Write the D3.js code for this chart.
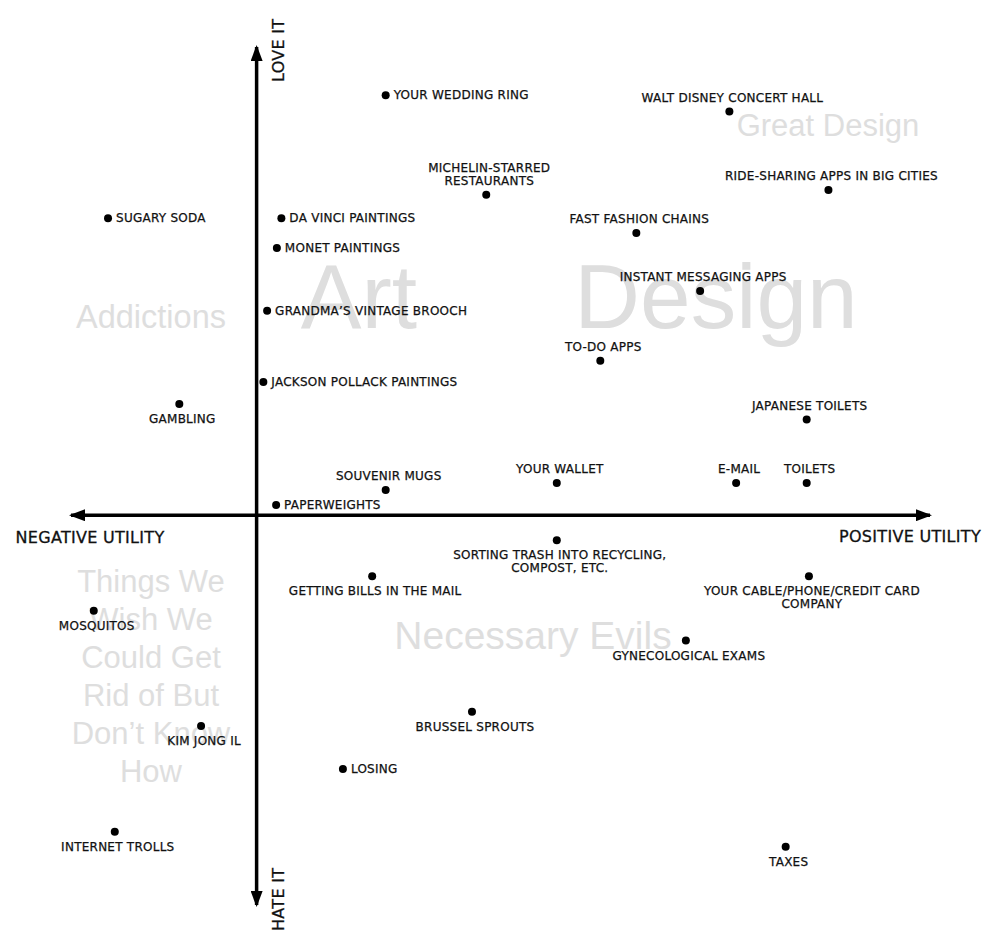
<!DOCTYPE html>
<html>
<head>
<meta charset="utf-8">
<script src="https://cdn.jsdelivr.net/npm/d3@7"></script>
<style>
  body { margin: 0; background: #fff; }
  .item { font-family: "DejaVu Sans", sans-serif; font-size: 12px; letter-spacing: 0.25px; fill: #111; stroke: #111; stroke-width: 0.25px; }
  .axislabel { font-family: "DejaVu Sans", sans-serif; font-size: 16px; letter-spacing: 0.3px; fill: #111; stroke: #111; stroke-width: 0.3px; }
  .zone { font-family: "Liberation Sans", Arial, sans-serif; fill: #dedede; text-anchor: middle; }
</style>
</head>
<body>
<svg width="1000" height="949"></svg>
<script>
// things, how useful (x) and how much we love them (y)
var names = [
  "YOUR WEDDING RING", "WALT DISNEY CONCERT HALL", "MICHELIN-STARRED|RESTAURANTS",
  "RIDE-SHARING APPS IN BIG CITIES", "SUGARY SODA", "DA VINCI PAINTINGS", "MONET PAINTINGS",
  "FAST FASHION CHAINS", "INSTANT MESSAGING APPS", "GRANDMA\u2019S VINTAGE BROOCH", "TO-DO APPS",
  "JACKSON POLLACK PAINTINGS", "GAMBLING", "JAPANESE TOILETS", "YOUR WALLET", "E-MAIL", "TOILETS",
  "SOUVENIR MUGS", "PAPERWEIGHTS", "SORTING TRASH INTO RECYCLING,|COMPOST, ETC.",
  "GETTING BILLS IN THE MAIL", "YOUR CABLE/PHONE/CREDIT CARD|COMPANY", "MOSQUITOS",
  "GYNECOLOGICAL EXAMS", "BRUSSEL SPROUTS", "KIM JONG IL", "LOSING", "INTERNET TROLLS", "TAXES"
];
var utility = [17.2, 63.0, 30.6, 76.2, -19.8, 3.3, 2.7, 50.6, 59.1, 1.4, 45.8, 0.9, -10.3, 73.3,
  40.0, 63.9, 73.3, 17.2, 2.6, 40.0, 15.4, 73.6, -21.7, 57.2, 28.7, -7.4, 11.5, -18.9, 70.5];
var love = [53.6, 51.5, 40.9, 41.5, 37.9, 37.9, 34.1, 36.0, 28.6, 26.1, 19.7, 17.0, 14.2, 12.2,
  4.1, 4.1, 4.1, 3.2, 1.3, -3.2, -7.8, -7.8, -12.2, -16.0, -25.1, -26.9, -32.4, -40.4, -42.3];

var zoneNames = ["Great Design", "Art", "Design", "Addictions",
  "Things We|Wish We|Could Get|Rid of But|Don\u2019t Know|How", "Necessary Evils"];

var svg = d3.select("svg");

var x = d3.scaleLinear().domain([-25, 90]).range([69, 932]);
var y = d3.scaleLinear().domain([-50, 60]).range([907, 45]);

// big grey zone words behind everything
var zoneLayout = [
  { cx: 828, by: 136, size: 31 },
  { cx: 359, by: 328, size: 91 },
  { cx: 716, by: 328, size: 91 },
  { cx: 151, by: 328, size: 32.5 },
  { cx: 151, by: 592, size: 31 },
  { cx: 533, by: 649, size: 39 }
];
var zone = svg.append("g").selectAll("text")
    .data(zoneNames)
    .enter().append("text")
      .attr("class", "zone")
      .attr("x", function(d, i) { return zoneLayout[i].cx; })
      .attr("y", function(d, i) { return zoneLayout[i].by; })
      .style("font-size", function(d, i) { return zoneLayout[i].size + "px"; });
zone.selectAll("tspan")
    .data(function(d) { return d.split("|"); })
    .enter().append("tspan")
      .attr("x", function() { return d3.select(this.parentNode).attr("x"); })
      .attr("dy", function(d, i) { return i ? 38 : 0; })
      .text(function(d) { return d; });

// arrows
var defs = svg.append("defs");
defs.append("marker")
    .attr("id", "head")
    .attr("viewBox", "0 0 16 12")
    .attr("refX", 14).attr("refY", 6)
    .attr("markerWidth", 16).attr("markerHeight", 12)
    .attr("markerUnits", "userSpaceOnUse")
    .attr("orient", "auto-start-reverse")
  .append("path")
    .attr("d", "M0,0 L16,6 L0,12 Z")
    .attr("fill", "#000");

var axes = svg.append("g");
axes.append("line")
    .attr("x1", x(-25) + 2).attr("x2", x(90) - 2)
    .attr("y1", y(0)).attr("y2", y(0))
    .attr("stroke", "#000").attr("stroke-width", 3.5)
    .attr("marker-start", "url(#head)").attr("marker-end", "url(#head)");
axes.append("line")
    .attr("x1", x(0)).attr("x2", x(0))
    .attr("y1", y(-50) - 2).attr("y2", y(60) + 2)
    .attr("stroke", "#000").attr("stroke-width", 3.5)
    .attr("marker-start", "url(#head)").attr("marker-end", "url(#head)");

axes.append("text").attr("class", "axislabel")
    .attr("x", 90).attr("y", 543).attr("text-anchor", "middle")
    .text("NEGATIVE UTILITY");
axes.append("text").attr("class", "axislabel")
    .attr("x", 910).attr("y", 542).attr("text-anchor", "middle")
    .text("POSITIVE UTILITY");
axes.append("text").attr("class", "axislabel")
    .attr("transform", "translate(284,82) rotate(-90)")
    .text("LOVE IT");
axes.append("text").attr("class", "axislabel")
    .attr("transform", "translate(284,931) rotate(-90)")
    .text("HATE IT");

// where each label sits relative to its dot
var side = {
  "YOUR WEDDING RING": "right", "SUGARY SODA": "right", "DA VINCI PAINTINGS": "right",
  "MONET PAINTINGS": "right", "GRANDMA\u2019S VINTAGE BROOCH": "right",
  "JACKSON POLLACK PAINTINGS": "right", "PAPERWEIGHTS": "right", "LOSING": "right",
  "GAMBLING": "below", "SORTING TRASH INTO RECYCLING,|COMPOST, ETC.": "below",
  "GETTING BILLS IN THE MAIL": "below", "YOUR CABLE/PHONE/CREDIT CARD|COMPANY": "below",
  "MOSQUITOS": "below", "GYNECOLOGICAL EXAMS": "below", "BRUSSEL SPROUTS": "below",
  "KIM JONG IL": "below", "INTERNET TROLLS": "below", "TAXES": "below"
};

var items = names.map(function(n, i) {
  return { name: n, u: utility[i], l: love[i], side: side[n] || "above" };
});

var node = svg.append("g").selectAll("g")
    .data(items)
    .enter().append("g")
      .attr("transform", function(d) { return "translate(" + x(d.u) + "," + y(d.l) + ")"; });

node.append("circle")
    .attr("r", 4)
    .attr("fill", "#000");

var label = node.append("text")
    .attr("class", "item")
    .attr("text-anchor", function(d) { return d.side == "right" ? "start" : "middle"; });

label.selectAll("tspan")
    .data(function(d) {
      var lines = d.name.split("|");
      return lines.map(function(t, j) {
        var dy;
        if (d.side == "right") dy = 4;
        else if (d.side == "below") dy = 19 + j * 13;
        else dy = -10 - (lines.length - 1 - j) * 13;
        return { t: t, dy: dy, side: d.side };
      });
    })
    .enter().append("tspan")
      .attr("x", function(d) { return d.side == "right" ? 8 : 3; })
      .attr("y", function(d) { return d.dy; })
      .text(function(d) { return d.t; });
</script>
</body>
</html>
